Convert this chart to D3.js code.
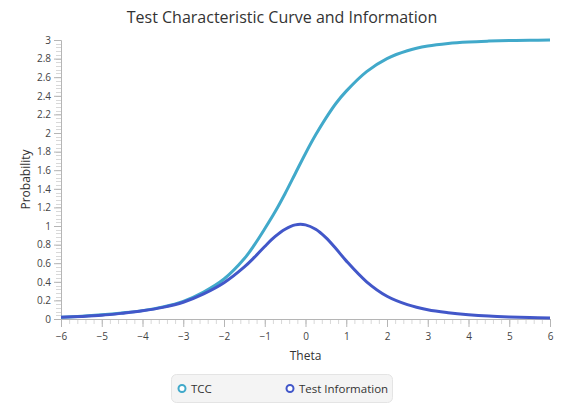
<!DOCTYPE html>
<html>
<head>
<meta charset="utf-8">
<script src="https://cdn.jsdelivr.net/npm/d3@7"></script>
<style>
  body { margin: 0; background: #fff; }
  svg { display: block; font-family: "Open Sans", "Noto Sans", sans-serif; }
</style>
</head>
<body>
<div id="chart"></div>
<script>
const theta = [-6, -5.5, -5, -4.5, -4, -3.5, -3, -2.5, -2, -1.5, -1.25, -1, -0.75, -0.5, -0.25, 0, 0.25, 0.5, 0.75, 1, 1.5, 2, 2.5, 3, 3.5, 4, 4.5, 5, 5.5, 6];
const tcc = [0.02, 0.03, 0.045, 0.065, 0.09, 0.13, 0.19, 0.29, 0.43, 0.65, 0.80, 0.97, 1.15, 1.35, 1.565, 1.78, 1.98, 2.16, 2.32, 2.45, 2.66, 2.80, 2.885, 2.935, 2.963, 2.979, 2.988, 2.994, 2.997, 3.0];
const info = [0.018, 0.027, 0.04, 0.062, 0.088, 0.125, 0.18, 0.27, 0.39, 0.56, 0.665, 0.78, 0.885, 0.965, 1.012, 1.012, 0.965, 0.875, 0.755, 0.625, 0.40, 0.245, 0.155, 0.10, 0.068, 0.046, 0.031, 0.022, 0.016, 0.012];
const seriesNames = ["TCC", "Test Information"];
const seriesColors = ["#41a9ca", "#4257c9"];
const xTickValues = d3.range(-6, 7, 1);
const yTickValues = d3.range(0, 3.01, 0.2).map(v => +v.toFixed(1));

const width = 564, height = 408;
const margin = { left: 61, right: 14, top: 40, bottom: 89 };

const svg = d3.select("#chart").append("svg")
  .attr("width", width)
  .attr("height", height);

const x = d3.scaleLinear().domain([-6, 6]).range([margin.left, width - margin.right]);
const y = d3.scaleLinear().domain([0, 3]).range([height - margin.bottom, margin.top]);

// title
svg.append("text")
  .attr("x", 282).attr("y", 23)
  .attr("text-anchor", "middle")
  .style("font-size", "16px")
  .style("fill", "#333")
  .text("Test Characteristic Curve and Information");

// minor ticks
const xMinor = d3.range(-6, 6.001, 0.2).map(v => +v.toFixed(1));
const yMinor = d3.range(0, 3.001, 0.04).map(v => +v.toFixed(2));

svg.append("g").selectAll("line").data(xMinor).join("line")
  .attr("x1", d => x(d) + 0.5).attr("x2", d => x(d) + 0.5)
  .attr("y1", y(0)).attr("y2", y(0) + 5)
  .attr("stroke", "#d8d8d8");

svg.append("g").selectAll("line").data(yMinor).join("line")
  .attr("y1", d => Math.round(y(d)) + 0.5).attr("y2", d => Math.round(y(d)) + 0.5)
  .attr("x1", x(-6) - 5).attr("x2", x(-6))
  .attr("stroke", "#d8d8d8");

// axes
const xAxis = svg.append("g")
  .attr("transform", `translate(0,${y(0)})`)
  .call(d3.axisBottom(x).tickValues(xTickValues).tickSize(8).tickPadding(6).tickFormat(d3.format("d")));
const yAxis = svg.append("g")
  .attr("transform", `translate(${x(-6)},0)`)
  .call(d3.axisLeft(y).tickValues(yTickValues).tickSize(7).tickPadding(3).tickFormat(d => d3.format("~g")(d)));

[xAxis, yAxis].forEach(g => {
  g.select(".domain").attr("stroke", "#b5b5b5");
  g.selectAll(".tick line").attr("stroke", "#b5b5b5");
  g.selectAll(".tick text").style("font-size", "10px").style("fill", "#444").style("font-family", "\"Open Sans\", sans-serif");
});

// axis labels
svg.append("text")
  .attr("x", x(0)).attr("y", 360)
  .attr("text-anchor", "middle")
  .style("font-size", "12px").style("fill", "#333")
  .text("Theta");
svg.append("text")
  .attr("transform", `translate(30,${(y(0) + y(3)) / 2}) rotate(-90)`)
  .attr("text-anchor", "middle")
  .style("font-size", "12px").style("fill", "#333")
  .text("Probability");

// curves
const series = [tcc, info];
const line = d3.line()
  .x((d, i) => x(theta[i]))
  .y(d => y(d))
  .curve(d3.curveCatmullRom.alpha(0.5));

series.forEach((s, k) => {
  svg.append("path")
    .datum(s)
    .attr("fill", "none")
    .attr("stroke", seriesColors[k])
    .attr("stroke-width", 3)
    .attr("d", line);
});

// legend
const legend = svg.append("g");
legend.append("rect")
  .attr("x", 171.5).attr("y", 374.5)
  .attr("width", 221).attr("height", 28)
  .attr("rx", 5)
  .attr("fill", "#f4f4f4")
  .attr("stroke", "#e4e4e4");

const legendX = [182, 290];
seriesNames.forEach((name, k) => {
  legend.append("circle")
    .attr("cx", legendX[k]).attr("cy", 388.5)
    .attr("r", 3.5)
    .attr("fill", "#fff")
    .attr("stroke", seriesColors[k])
    .attr("stroke-width", 2);
  legend.append("text")
    .attr("x", legendX[k] + 9).attr("y", 393)
    .style("font-size", "11.5px").style("fill", "#333")
    .text(name);
});
</script>
</body>
</html>
